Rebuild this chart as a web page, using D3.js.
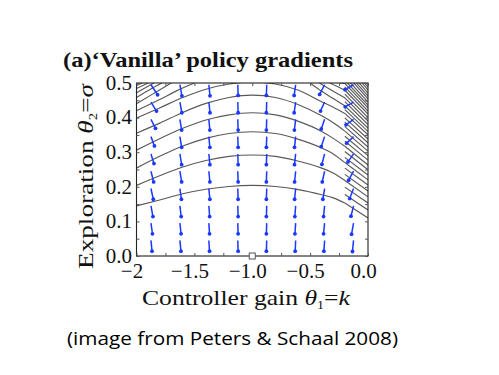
<!DOCTYPE html>
<html><head>
<meta charset="utf-8">
<title>Vanilla policy gradients</title>
<script src="https://cdn.jsdelivr.net/npm/d3@7"></script>
<style>
  body { margin: 0; background: #fff; }
  .serif { font-family: "Liberation Serif", "DejaVu Serif", serif; fill: #111; }
  .contour { fill: none; stroke: #595959; stroke-width: 1.15; }
  .arrow { stroke: #1a38ff; stroke-width: 1.5; }
  .head { fill: #1a38ff; }
  .axis .domain { display: none; }
  .axis line { stroke: #555; }
</style>
</head>
<body>
<svg id="chart" width="499" height="375"></svg>
<script>

// ---- data ----

// gradient field: arrow tails sit on this grid
const kCols = [-1.875, -1.625, -1.375, -1.125, -0.875, -0.625, -0.375, -0.125];
const sigmaRows = [0.495, 0.445, 0.395, 0.345, 0.295, 0.245, 0.195, 0.145, 0.095, 0.045];

// arrow components per column (rows top -> bottom), in data units
const arrowDk = [
  [0.057, 0.048, 0.039, 0.030, 0.026, 0.023, 0.020, 0.017, 0.013, 0.009],
  [0.017, 0.017, 0.015, 0.015, 0.015, 0.015, 0.013, 0.011, 0.010, 0.009],
  [0.010, 0.010, 0.009, 0.009, 0.009, 0.009, 0.009, 0.007, 0.006, 0.006],
  [0.003, 0.003, 0.003, 0.003, 0.003, 0.003, 0.003, 0.003, 0.003, 0.003],
  [-0.003, -0.003, -0.003, -0.003, -0.003, -0.003, -0.003, -0.003, -0.003, -0.003],
  [-0.013, -0.013, -0.011, -0.010, -0.010, -0.009, -0.009, -0.007, -0.006, -0.004],
  [-0.043, -0.035, -0.029, -0.029, -0.023, -0.020, -0.015, -0.009, -0.009, -0.006],
  [-0.074, -0.072, -0.065, -0.059, -0.048, -0.042, -0.033, -0.022, -0.017, -0.009]
];
const arrowDs = [
  [-0.029, -0.026, -0.026, -0.027, -0.028, -0.031, -0.031, -0.031, -0.031, -0.031],
  [-0.032, -0.031, -0.031, -0.031, -0.031, -0.031, -0.031, -0.031, -0.031, -0.031],
  [-0.032, -0.031, -0.031, -0.031, -0.031, -0.031, -0.031, -0.031, -0.031, -0.031],
  [-0.031, -0.031, -0.031, -0.031, -0.031, -0.031, -0.031, -0.031, -0.031, -0.031],
  [-0.031, -0.031, -0.031, -0.031, -0.031, -0.031, -0.031, -0.031, -0.031, -0.031],
  [-0.031, -0.031, -0.031, -0.031, -0.031, -0.031, -0.031, -0.031, -0.031, -0.031],
  [-0.028, -0.026, -0.028, -0.029, -0.030, -0.031, -0.031, -0.031, -0.031, -0.031],
  [-0.014, -0.014, -0.016, -0.019, -0.023, -0.026, -0.029, -0.030, -0.032, -0.032]
];

// main contour arcs, sigma at these k positions
const arcK = [-2, -1.8, -1.6, -1.4, -1.2, -1.0, -0.8, -0.6, -0.4, -0.3, -0.2];
const arcSigma = [
  [0.145, 0.162, 0.180, 0.193, 0.201, 0.204, 0.201, 0.192, 0.177, 0.168, 0.153],
  [0.204, 0.232, 0.257, 0.276, 0.288, 0.292, 0.288, 0.274, 0.254, 0.240, 0.218],
  [0.254, 0.288, 0.318, 0.340, 0.354, 0.359, 0.354, 0.337, 0.312, 0.295, 0.270],
  [0.306, 0.339, 0.369, 0.393, 0.408, 0.414, 0.408, 0.389, 0.360, 0.340, 0.317],
  [0.355, 0.384, 0.415, 0.441, 0.458, 0.465, 0.458, 0.437, 0.405, 0.385, 0.361],
  [0.399, 0.428, 0.458, 0.482, 0.497, 0.503, 0.497, 0.479, 0.446, 0.430, 0.412]
];

// dense strip near k = 0: sigma at the kink (k = -0.2) and at the right edge (k = 0)
const stripK = [-0.2, 0];
const stripKink = [0.153, 0.178, 0.199, 0.218, 0.236, 0.254, 0.270, 0.285, 0.302, 0.317, 0.332,
  0.346, 0.361, 0.374, 0.387, 0.399, 0.412, 0.423, 0.434, 0.446, 0.457, 0.468, 0.479, 0.489,
  0.499, 0.508, 0.518, 0.529, 0.538, 0.548, 0.558, 0.568, 0.578];
const stripRight = [0.110, 0.133, 0.153, 0.171, 0.188, 0.205, 0.220, 0.234, 0.249, 0.263, 0.277,
  0.290, 0.303, 0.315, 0.327, 0.338, 0.350, 0.360, 0.370, 0.380, 0.390, 0.400, 0.410, 0.419,
  0.428, 0.436, 0.445, 0.454, 0.462, 0.471, 0.480, 0.488, 0.497];

// short contours entering through the top edge, [k, sigma]
const topRightLines = [
  [[-0.5, 0.5], [-0.4, 0.476], [-0.3, 0.455], [-0.2, 0.434]],
  [[-0.42, 0.5], [-0.3, 0.476], [-0.2, 0.457]],
  [[-0.33, 0.5], [-0.26, 0.489], [-0.2, 0.479]],
  [[-0.25, 0.5], [-0.2, 0.499]]
];
const topLeftLines = [
  [[-2, 0.420], [-1.8, 0.452], [-1.65, 0.478], [-1.5, 0.5]],
  [[-2, 0.440], [-1.85, 0.470], [-1.7, 0.5]],
  [[-2, 0.458], [-1.88, 0.482], [-1.78, 0.5]],
  [[-2, 0.472], [-1.85, 0.5]],
  [[-2, 0.484], [-1.9, 0.5]],
  [[-2, 0.493], [-1.95, 0.5]]
];

// optimum marker
const optimum = [-1.0, 0.0];

// axes
const xMajor = [-2, -1.5, -1, -0.5, 0];
const xTickLabels = ["\u22122", "\u22121.5", "\u22121.0", "\u22120.5", "0.0"];
const xMinor = [-1.75, -1.25, -0.75, -0.25];
const yMajor = [0, 0.1, 0.2, 0.3, 0.4, 0.5];
const yTickLabels = ["0.0", "0.1", "0.2", "0.3", "0.4", "0.5"];
const yMinor = [0.05, 0.15, 0.25, 0.35, 0.45];


// ---- drawing ----
const svg = d3.select("#chart");
svg.append("rect").attr("width", 499).attr("height", 375).attr("fill", "#fff");

const x = d3.scaleLinear().domain([-2, 0]).range([136.5, 368]);
const y = d3.scaleLinear().domain([0, 0.5]).range([256, 83]);

svg.append("clipPath").attr("id", "plotClip")
  .append("rect")
  .attr("x", x(-2)).attr("y", y(0.5))
  .attr("width", x(0) - x(-2)).attr("height", y(0) - y(0.5));

const plot = svg.append("g").attr("clip-path", "url(#plotClip)");

const line = d3.line().x(d => x(d[0])).y(d => y(d[1])).curve(d3.curveMonotoneX);

// contour arcs
arcSigma.forEach(row => {
  plot.append("path").attr("class", "contour")
    .attr("d", line(arcK.map((k, i) => [k, row[i]])));
});

// strip lines are straight pieces
const straight = d3.line().x(d => x(d[0])).y(d => y(d[1]));
stripKink.forEach((s, i) => {
  plot.append("path").attr("class", "contour")
    .attr("d", straight([[stripK[0], s], [stripK[1], stripRight[i]]]));
});

topRightLines.concat(topLeftLines).forEach(pts => {
  plot.append("path").attr("class", "contour").attr("d", line(pts));
});

// gradient arrows
kCols.forEach((k, j) => {
  sigmaRows.forEach((s, i) => {
    const hk = k + arrowDk[j][i];
    const hs = s + arrowDs[j][i];
    plot.append("line").attr("class", "arrow")
      .attr("x1", x(k)).attr("y1", y(s))
      .attr("x2", x(hk)).attr("y2", y(hs));
    plot.append("circle").attr("class", "head")
      .attr("cx", x(hk)).attr("cy", y(hs)).attr("r", 1.9);
  });
});

// frame
svg.append("rect")
  .attr("x", x(-2)).attr("y", y(0.5))
  .attr("width", x(0) - x(-2)).attr("height", y(0) - y(0.5))
  .attr("fill", "none").attr("stroke", "#222").attr("stroke-width", 1.1);

// inward ticks on all four sides
const allX = xMajor.concat(xMinor);
const allY = yMajor.concat(yMinor);

const bottom = svg.append("g").attr("class", "axis")
  .attr("transform", "translate(0," + y(0) + ")")
  .call(d3.axisBottom(x).tickValues(xMajor).tickSizeInner(-3).tickSizeOuter(0).tickPadding(7)
    .tickFormat((d, i) => xTickLabels[i]));
bottom.selectAll("text")
  .attr("class", "serif").attr("font-size", 21).attr("dx", -5);
svg.append("g").attr("class", "axis")
  .attr("transform", "translate(0," + y(0) + ")")
  .call(d3.axisBottom(x).tickValues(xMinor).tickSizeInner(-3).tickSizeOuter(0).tickFormat(""));
svg.append("g").attr("class", "axis")
  .attr("transform", "translate(0," + y(0.5) + ")")
  .call(d3.axisTop(x).tickValues(allX).tickSizeInner(-3).tickSizeOuter(0).tickFormat(""));

const left = svg.append("g").attr("class", "axis")
  .attr("transform", "translate(" + x(-2) + ",0)")
  .call(d3.axisLeft(y).tickValues(yMajor).tickSizeInner(-3).tickSizeOuter(0).tickPadding(4.5)
    .tickFormat((d, i) => yTickLabels[i]));
left.selectAll("text")
  .attr("class", "serif").attr("font-size", 21).attr("dy", "0.3em");
svg.append("g").attr("class", "axis")
  .attr("transform", "translate(" + x(-2) + ",0)")
  .call(d3.axisLeft(y).tickValues(yMinor).tickSizeInner(-3).tickSizeOuter(0).tickFormat(""));
svg.append("g").attr("class", "axis")
  .attr("transform", "translate(" + x(0) + ",0)")
  .call(d3.axisRight(y).tickValues(allY).tickSizeInner(-3).tickSizeOuter(0).tickFormat(""));

// optimum square
svg.append("rect")
  .attr("x", x(optimum[0]) - 3).attr("y", y(optimum[1]) - 3)
  .attr("width", 6).attr("height", 6)
  .attr("fill", "#fff").attr("stroke", "#555").attr("stroke-width", 1);

// title
svg.append("text").attr("class", "serif")
  .attr("x", 63).attr("y", 67)
  .attr("font-size", 22).attr("font-weight", "bold")
  .attr("textLength", 290).attr("lengthAdjust", "spacingAndGlyphs")
  .text("(a)\u2018Vanilla\u2019 policy gradients");

// x label
const xl = svg.append("text").attr("class", "serif")
  .attr("x", 142).attr("y", 305)
  .attr("font-size", 22)
  .attr("textLength", 208).attr("lengthAdjust", "spacingAndGlyphs");
xl.append("tspan").text("Controller gain ");
xl.append("tspan").attr("font-style", "italic").text("\u03b8");
xl.append("tspan").attr("font-size", 12).attr("dy", 4).text("1");
xl.append("tspan").attr("dy", -4).text("=");
xl.append("tspan").attr("font-style", "italic").text("k");

// y label
const yl = svg.append("text").attr("class", "serif")
  .attr("transform", "translate(93,269) rotate(-90)")
  .attr("font-size", 22)
  .attr("textLength", 185).attr("lengthAdjust", "spacingAndGlyphs");
yl.append("tspan").text("Exploration ");
yl.append("tspan").attr("font-style", "italic").text("\u03b8");
yl.append("tspan").attr("font-size", 12).attr("dy", 4).text("2");
yl.append("tspan").attr("dy", -4).text("=");
yl.append("tspan").attr("font-style", "italic").text("\u03c3");

// caption (sans, like the slide text)
svg.append("text")
  .attr("x", 67).attr("y", 345)
  .style("font-family", "'Open Sans', 'Noto Sans', sans-serif")
  .attr("font-size", 18.5).attr("fill", "#000")
  .attr("textLength", 331).attr("lengthAdjust", "spacingAndGlyphs")
  .text("(image from Peters & Schaal 2008)");

</script>
</body>
</html>
